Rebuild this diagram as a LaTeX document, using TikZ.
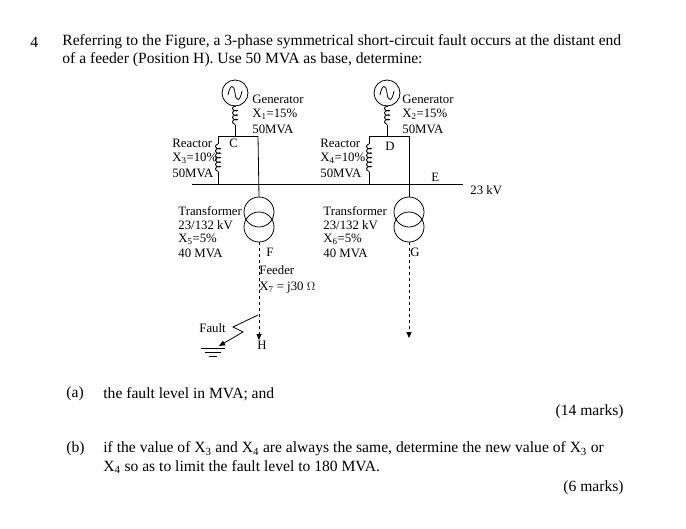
\documentclass[tikz,border=0pt]{standalone}
\usepackage{fontspec}
\setmainfont{Liberation Serif}
\usetikzlibrary{decorations.pathmorphing,arrows.meta}
\tikzset{
  lbl/.style={inner sep=0pt,anchor=west,font=\fontsize{12.8}{14}\selectfont},
  txt/.style={inner sep=0pt,anchor=west,font=\fontsize{15.6}{18}\selectfont},
  coil/.style={decorate,decoration={coil,mirror,aspect=0.5,segment length=4.5pt,amplitude=2.5pt}},
  feed/.style={dashed,dash pattern=on 3pt off 3pt,-{Triangle[length=6pt,width=5pt]}}
}
\begin{document}
\begin{tikzpicture}[x=1pt,y=-1pt,line width=0.8pt]
\useasboundingbox (0,0) rectangle (686,528);
% Question text
\node[txt] (q) at (30,42) {4};
\node[txt] (q1) at (62,42) {Referring to the Figure, a 3-phase symmetrical short-circuit fault occurs at the distant end};
\node[txt] (q2) at (62,60) {of a feeder (Position H). Use 50 MVA as base, determine:};
% Generator 1
\draw (235,93) node(g1)[circle,draw=black,minimum size=26pt,inner sep=0pt] {};
\draw (228,95) .. controls (230,84) and (234,84) .. (235,93) .. controls (236,102) and (240,102) .. (242,91);
\coordinate (g1a) at (235,106); \coordinate (g1b) at (235,125); \coordinate (c1) at (235,136);
\draw (g1) -- (g1a); \draw[coil] (g1a) -- (g1b); \draw (g1b) -- (c1);
% Generator 2
\draw (387,93) node(g2)[circle,draw=black,minimum size=26pt,inner sep=0pt] {};
\draw (380,95) .. controls (382,84) and (386,84) .. (387,93) .. controls (388,102) and (392,102) .. (394,91);
\coordinate (g2a) at (387,106); \coordinate (g2b) at (387,125); \coordinate (c2) at (387,136);
\draw (g2) -- (g2a); \draw[coil] (g2a) -- (g2b); \draw (g2b) -- (c2);
% Busbars C and D
\coordinate (cl) at (218,136); \coordinate (cr) at (258,136);
\coordinate (dl) at (369,136); \coordinate (dr) at (409,136);
\coordinate (r1a) at (218,144); \coordinate (r1b) at (218,172); \coordinate (r1c) at (218,184);
\coordinate (r2a) at (369,144); \coordinate (r2b) at (369,172); \coordinate (r2c) at (369,184);
\draw (cl) -- (cr); \draw (dl) -- (dr);
\draw (cl) -- (r1a); \draw[coil] (r1a) -- (r1b); \draw (r1b) -- (r1c);
\draw (dl) -- (r2a); \draw[coil] (r2a) -- (r2b); \draw (r2b) -- (r2c);
% Bus E
\coordinate (e1) at (192,184); \coordinate (e2) at (463,184);
\draw (e1) -- (e2);
% Transformers
\draw (259,212) node(t1a)[circle,draw=black,minimum size=30pt,inner sep=0pt] {} (259,227) node(t1b)[circle,draw=black,minimum size=30pt,inner sep=0pt] {};
\draw (409,212) node(t2a)[circle,draw=black,minimum size=30pt,inner sep=0pt] {} (409,227) node(t2b)[circle,draw=black,minimum size=30pt,inner sep=0pt] {};
\draw (cr) -- (t1a.north); \draw (dr) -- (t2a.north);
% Feeders
\coordinate (h) at (259,340); \coordinate (g) at (409,338);
\draw[feed] (t1b.south) -- (h);
\draw[feed] (t2b.south) -- (g);
% Fault
\coordinate (f0) at (258,315); \coordinate (f1) at (233,327); \coordinate (f2) at (243,332); \coordinate (f3) at (219,346);
\draw[-{Triangle[length=6pt,width=5pt]}] (f0) -- (f1) -- (f2) -- (f3);
\coordinate (gr) at (213,348);
\draw (gr) ++(-12,0) -- ++(24,0) (gr) ++(-8,4) -- ++(16,0) (gr) ++(-4,8) -- ++(8,0);
% Labels
\node[lbl] (gl1) at (252,99) {Generator};
\node[lbl] (gl2) at (252,114) {X\textsubscript{1}=15\%};
\node[lbl] (gl3) at (252,129) {50MVA};
\node[lbl] (hl1) at (402,99) {Generator};
\node[lbl] (hl2) at (402,114) {X\textsubscript{2}=15\%};
\node[lbl] (hl3) at (402,129) {50MVA};
\node[lbl] (rl1) at (172,143) {Reactor};
\node[lbl] (rl2) at (172,158) {X\textsubscript{3}=10\%};
\node[lbl] (rl3) at (172,173) {50MVA};
\node[lbl] (sl1) at (320,143) {Reactor};
\node[lbl] (sl2) at (320,158) {X\textsubscript{4}=10\%};
\node[lbl] (sl3) at (320,173) {50MVA};
\node[lbl] (lc) at (229,143) {C};
\node[lbl] (ld) at (385,146) {D};
\node[lbl] (le) at (431,177) {E};
\node[lbl] (lkv) at (470,190) {23 kV};
\node[lbl] (tl1) at (178,211) {Transformer};
\node[lbl] (tl2) at (178,225) {23/132 kV};
\node[lbl] (tl3) at (178,239) {X\textsubscript{5}=5\%};
\node[lbl] (tl4) at (178,253) {40 MVA};
\node[lbl] (ul1) at (323,211) {Transformer};
\node[lbl] (ul2) at (323,225) {23/132 kV};
\node[lbl] (ul3) at (323,239) {X\textsubscript{6}=5\%};
\node[lbl] (ul4) at (323,253) {40 MVA};
\node[lbl] (lf) at (266,252) {F};
\node[lbl] (lg) at (410,252) {G};
\node[lbl] (fd1) at (259,270) {Feeder};
\node[lbl] (fd2) at (259,288) {X\textsubscript{7} = j30 $\Omega$};
\node[lbl] (lh) at (257,345) {H};
\node[lbl] (lfa) at (199,328) {Fault};
% Parts
\node[txt] (pa) at (66,394) {(a)};
\node[txt] (pa1) at (103,394) {the fault level in MVA; and};
\node[txt,anchor=east] (ma) at (624,412) {(14 marks)};
\node[txt] (pb) at (66,449) {(b)};
\node[txt] (pb1) at (103,449) {if the value of X\textsubscript{3} and X\textsubscript{4} are always the same, determine the new value of X\textsubscript{3} or};
\node[txt] (pb2) at (103,467) {X\textsubscript{4} so as to limit the fault level to 180 MVA.};
\node[txt,anchor=east] (mb) at (624,488) {(6 marks)};
\end{tikzpicture}
\end{document}
